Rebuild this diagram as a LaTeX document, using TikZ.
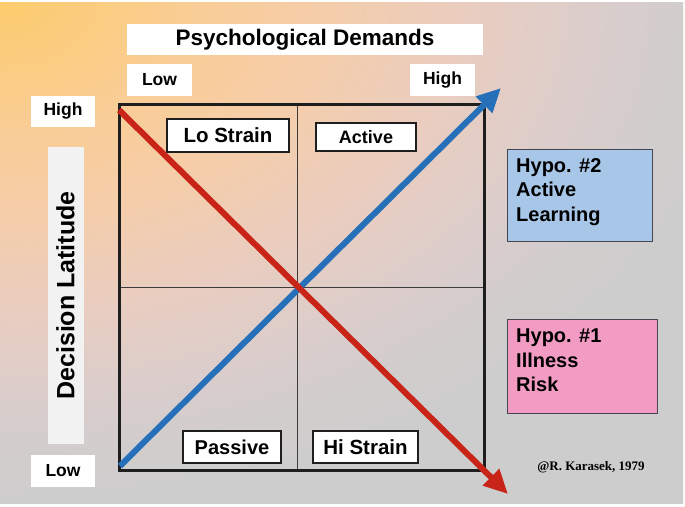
\documentclass[tikz,border=0pt]{standalone}
\usepackage{fontspec}
\setmainfont{Liberation Sans}
\newfontfamily\serifb{Liberation Serif}
\usetikzlibrary{arrows.meta}
\definecolor{bgA}{RGB}{252,204,108}
\definecolor{bgB}{RGB}{249,205,150}
\definecolor{bgC}{RGB}{246,205,166}
\definecolor{bgD}{RGB}{235,205,190}
\definecolor{bgE}{RGB}{218,205,204}
\definecolor{bgF}{RGB}{209,205,205}
\definecolor{bgG}{RGB}{206,205,205}
\definecolor{decfill}{RGB}{242,242,242}
\definecolor{qdark}{RGB}{30,30,30}
\definecolor{midline}{RGB}{60,60,60}
\definecolor{hypoblue}{RGB}{168,198,232}
\definecolor{hypopink}{RGB}{242,155,195}
\definecolor{hypoedge}{RGB}{70,70,80}
\definecolor{arrblue}{RGB}{38,112,186}
\definecolor{arrred}{RGB}{200,36,24}
\pgfdeclareradialshading{bgshade}{\pgfpoint{0bp}{0bp}}{color(0bp)=(bgA); color(6.5bp)=(bgB); color(10bp)=(bgC); color(15bp)=(bgD); color(20bp)=(bgE); color(23bp)=(bgF); color(25bp)=(bgG); color(50bp)=(bgG)}
\tikzset{
  lbl/.style={fill=white, inner sep=0pt, font=\bfseries\fontsize{17.5}{20}\selectfont},
  quad/.style={fill=white, draw=qdark, line width=1.3pt, inner sep=0pt},
  hypobox/.style={draw=hypoedge, line width=1pt, inner sep=0pt},
  hypotext/.style={anchor=north west, inner sep=0pt, align=left, font=\bfseries\fontsize{20}{24.5}\selectfont},
  arrowline/.style={line width=6pt, -{Triangle[length=24pt,width=22pt]}},
}
\begin{document}
\begin{tikzpicture}[x=1pt,y=-1pt]
\useasboundingbox (0,0) rectangle (685,506);
\fill[white] (0,0) rectangle (685,506);
\begin{scope}
  \clip (0,2) rectangle (683,503);
  \fill[bgG] (0,0) rectangle (685,506);
  \shade[shading=bgshade] (0,0) ellipse [x radius=750pt, y radius=500pt];
\end{scope}
% labels
\node[lbl, minimum width=356pt, minimum height=31pt, font=\bfseries\fontsize{22.5}{26}\selectfont] (title) at (305,39.5) {Psychological Demands};
\node[lbl, minimum width=65pt, minimum height=32pt] (lowtop) at (159.5,80) {Low};
\node[lbl, minimum width=65pt, minimum height=32pt] (hightop) at (442.5,80) {High};
\node[lbl, minimum width=64pt, minimum height=31pt] (highleft) at (63,111.5) {High};
\node[lbl, minimum width=64pt, minimum height=32pt] (lowleft) at (63,471) {Low};
\node[lbl, fill=decfill, rotate=90, minimum width=297pt, minimum height=36pt, font=\bfseries\fontsize{25}{29}\selectfont] (dec) at (65.5,295.5) {Decision Latitude};
% grid
\coordinate (tl) at (119,104);
\coordinate (br) at (484,470);
\coordinate (mt) at (297,104);
\coordinate (mb) at (297,470);
\coordinate (ml) at (119,287);
\coordinate (mr) at (484,287);
\draw[midline, line width=1pt] (mt) -- (mb);
\draw[midline, line width=1pt] (ml) -- (mr);
\draw[qdark, line width=3pt] (tl) rectangle (br);
% quadrant labels
\node[quad, minimum width=122pt, minimum height=33pt, font=\bfseries\fontsize{20.5}{24}\selectfont] (lostrain) at (228,135.5) {Lo Strain};
\node[quad, minimum width=100pt, minimum height=28pt, font=\bfseries\fontsize{18}{22}\selectfont] (active) at (366,137) {Active};
\node[quad, minimum width=98pt, minimum height=32pt, font=\bfseries\fontsize{20}{24}\selectfont] (passive) at (232,447) {Passive};
\node[quad, minimum width=105pt, minimum height=32pt, font=\bfseries\fontsize{20.5}{24}\selectfont] (histrain) at (365.5,447) {Hi Strain};
% arrows
\coordinate (bs) at (120,466);
\coordinate (be) at (501,88);
\coordinate (rs) at (119,110);
\coordinate (re) at (508,494);
\draw[arrowline, arrblue] (bs) -- (be);
\draw[arrowline, arrred] (rs) -- (re);
% hypotheses
\node[hypobox, fill=hypoblue, minimum width=145pt, minimum height=92pt] (h2) at (579.5,195) {};
\node[hypotext] (h2t) at (516,158) {Hypo. \#2\\Active\\Learning};
\node[hypobox, fill=hypopink, minimum width=150pt, minimum height=94pt] (h1) at (582,366) {};
\node[hypotext] (h1t) at (516,329) {Hypo. \#1\\Illness\\Risk};
% credit
\node[inner sep=0pt, font=\serifb\bfseries\fontsize{13}{15}\selectfont] (credit) at (591,467) {@R. Karasek, 1979};
\end{tikzpicture}
\end{document}
